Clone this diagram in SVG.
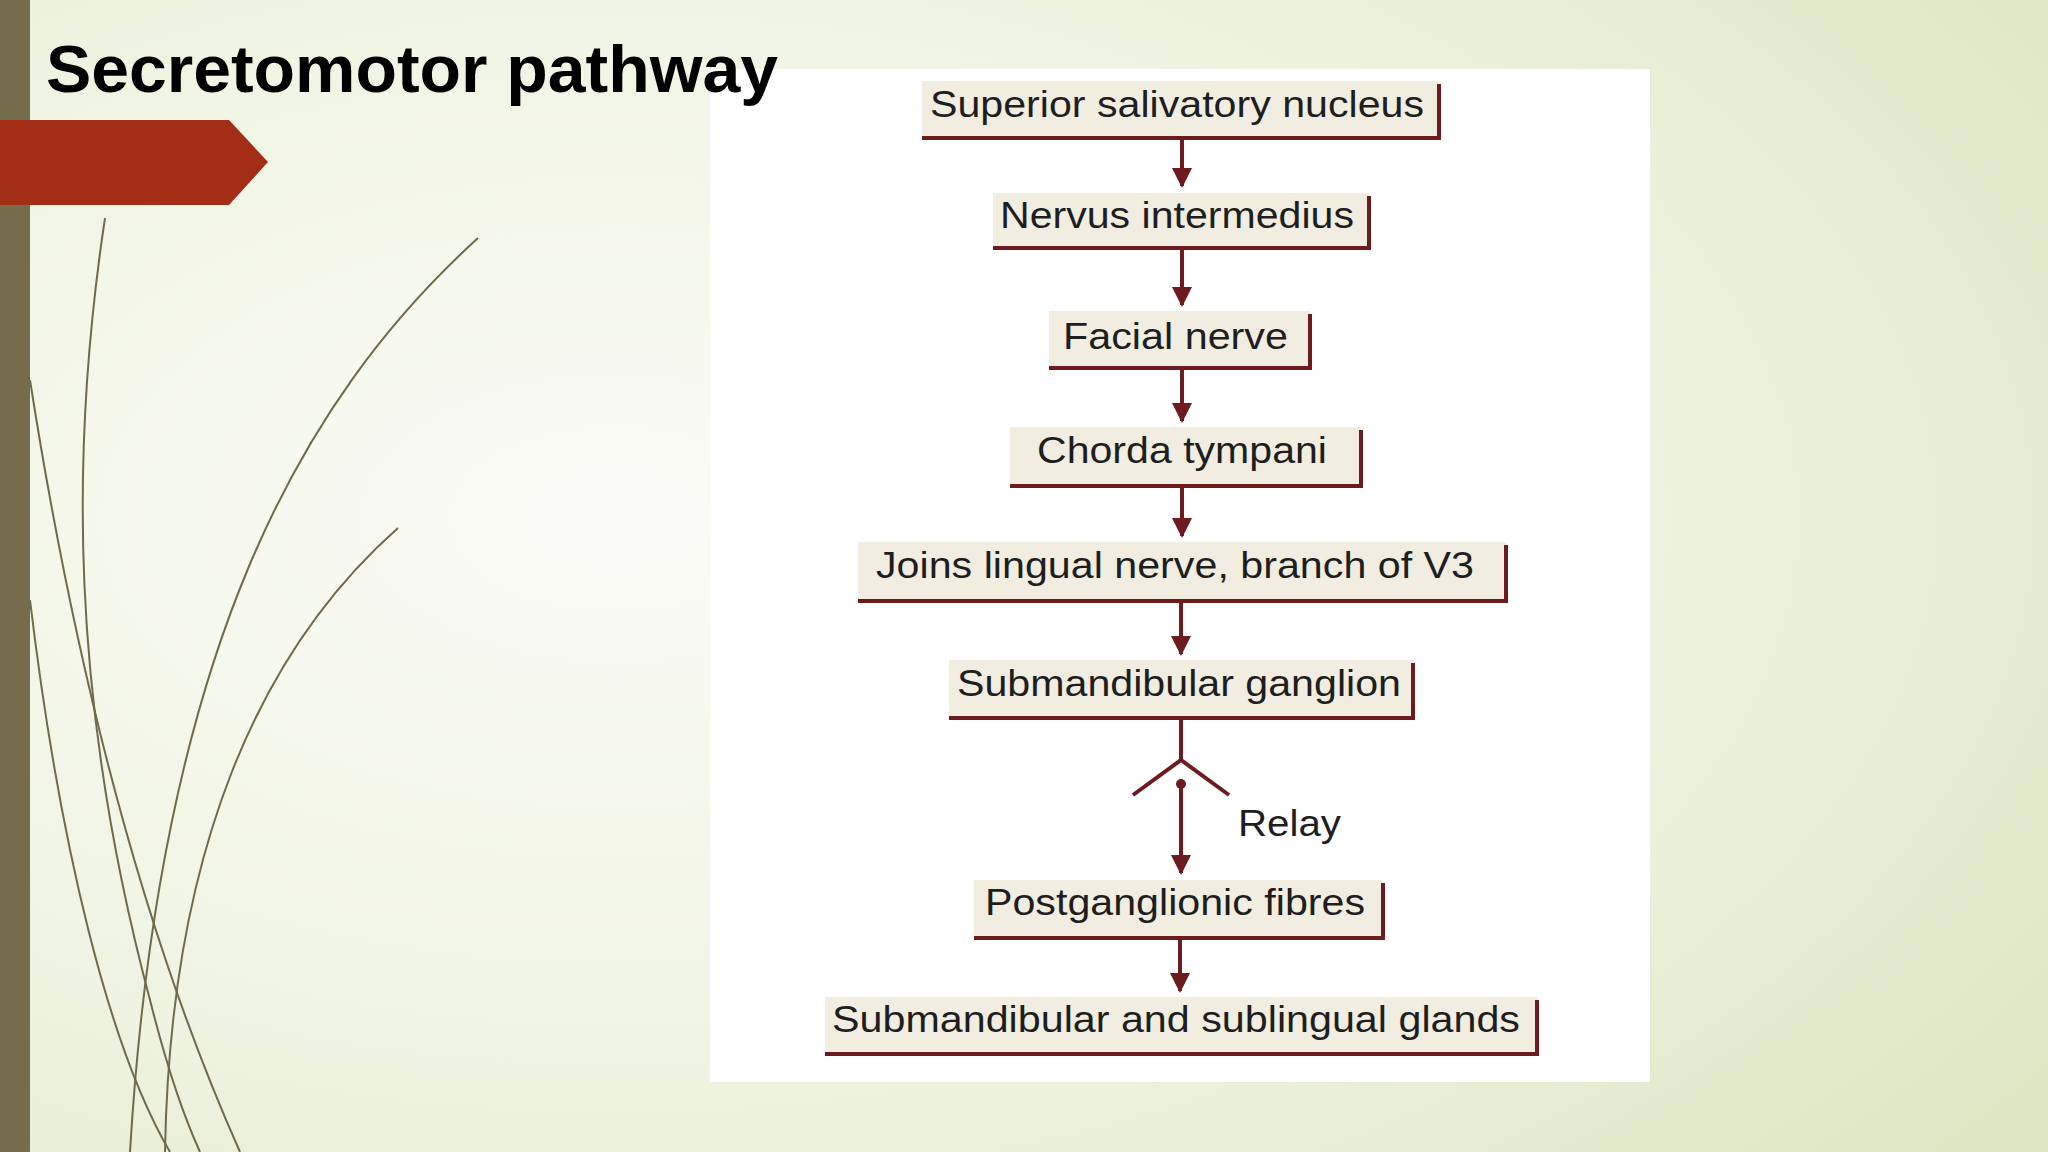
<svg xmlns="http://www.w3.org/2000/svg" width="2048" height="1152" viewBox="0 0 2048 1152">
<defs>
<radialGradient id="bg" cx="0.3" cy="0.45" r="0.85">
<stop offset="0" stop-color="#fbfcf6"/><stop offset="0.6" stop-color="#eef3e0"/><stop offset="1" stop-color="#dde7c4"/>
</radialGradient>
<marker id="ah" viewBox="0 0 10 10" refX="9" refY="5" markerWidth="5" markerHeight="5" orient="auto"><path d="M0,0 L10,5 L0,10 z" fill="#6e1b1f"/></marker>
<style>
.box{fill:#f2ede1}
.edge{fill:none;stroke:#6e1b1f;stroke-width:4}
.lbl{font-family:"Liberation Sans",Arial,sans-serif;font-size:36px;fill:#1e1e1e}
.con{fill:none;stroke:#6e1b1f;stroke-width:4}
.deco{fill:none;stroke:#6f6a4c;stroke-width:2}
</style>
</defs>
<rect width="2048" height="1152" fill="url(#bg)"/>
<g id="decor">
<path class="deco" d="M105,218 C70,450 70,700 150,1000 170,1080 190,1130 200,1152"/>
<path class="deco" d="M30,380 C80,700 150,950 240,1152" stroke-width="4"/>
<path class="deco" d="M478,238 C300,400 160,650 130,1152"/>
<path class="deco" d="M398,528 C260,650 170,850 165,1152" stroke-width="3"/>
<path class="deco" d="M30,600 C60,850 110,1050 170,1152" stroke="#c9d0ac" stroke-width="6"/>
<rect x="0" y="0" width="30" height="1152" fill="#746c4d"/>
<polygon points="0,120 229,120 268,162 229,205 0,205" fill="#a32e15"/>
</g>
<rect x="710" y="69" width="940" height="1013" fill="#ffffff"/>
<text x="46" y="92" font-family="Liberation Sans,Arial,sans-serif" font-weight="bold" font-size="66" fill="#000" textLength="732" lengthAdjust="spacingAndGlyphs">Secretomotor pathway</text>
<g id="n1"><rect class="box" x="922" y="81" width="517" height="57"/><path class="edge" d="M922,138 H1439 V84"/><text class="lbl" x="930" y="117" textLength="494" lengthAdjust="spacingAndGlyphs">Superior salivatory nucleus</text></g>
<g id="n2"><rect class="box" x="993" y="193" width="376" height="55"/><path class="edge" d="M993,248 H1369 V196"/><text class="lbl" x="1000" y="228" textLength="354" lengthAdjust="spacingAndGlyphs">Nervus intermedius</text></g>
<g id="n3"><rect class="box" x="1049" y="311" width="261" height="57"/><path class="edge" d="M1049,368 H1310 V314"/><text class="lbl" x="1063" y="349" textLength="225" lengthAdjust="spacingAndGlyphs">Facial nerve</text></g>
<g id="n4"><rect class="box" x="1010" y="427" width="351" height="59"/><path class="edge" d="M1010,486 H1361 V430"/><text class="lbl" x="1037" y="463" textLength="290" lengthAdjust="spacingAndGlyphs">Chorda tympani</text></g>
<g id="n5"><rect class="box" x="858" y="542" width="648" height="59"/><path class="edge" d="M858,601 H1506 V545"/><text class="lbl" x="876" y="578" textLength="598" lengthAdjust="spacingAndGlyphs">Joins lingual nerve, branch of V3</text></g>
<g id="n6"><rect class="box" x="949" y="660" width="464" height="58"/><path class="edge" d="M949,718 H1413 V663"/><text class="lbl" x="957" y="696" textLength="444" lengthAdjust="spacingAndGlyphs">Submandibular ganglion</text></g>
<g id="n7"><rect class="box" x="974" y="880" width="409" height="58"/><path class="edge" d="M974,938 H1383 V883"/><text class="lbl" x="985" y="915" textLength="380" lengthAdjust="spacingAndGlyphs">Postganglionic fibres</text></g>
<g id="n8"><rect class="box" x="825" y="997" width="712" height="57"/><path class="edge" d="M825,1054 H1537 V1000"/><text class="lbl" x="832" y="1032" textLength="688" lengthAdjust="spacingAndGlyphs">Submandibular and sublingual glands</text></g>
<g id="connectors">
<line class="con" x1="1182" y1="140" x2="1182" y2="186" marker-end="url(#ah)"/>
<line class="con" x1="1182" y1="250" x2="1182" y2="305" marker-end="url(#ah)"/>
<line class="con" x1="1182" y1="370" x2="1182" y2="421" marker-end="url(#ah)"/>
<line class="con" x1="1182" y1="488" x2="1182" y2="536" marker-end="url(#ah)"/>
<line class="con" x1="1181" y1="603" x2="1181" y2="654" marker-end="url(#ah)"/>
<path class="con" d="M1181,720 V762 M1133,795 L1181,760 L1229,795"/>
<circle cx="1181" cy="784" r="5" fill="#6e1b1f"/>
<line class="con" x1="1181" y1="784" x2="1181" y2="873" marker-end="url(#ah)"/>
<line class="con" x1="1180" y1="940" x2="1180" y2="991" marker-end="url(#ah)"/>
<text class="lbl" x="1238" y="836" textLength="103" lengthAdjust="spacingAndGlyphs">Relay</text>
</g>
</svg>
